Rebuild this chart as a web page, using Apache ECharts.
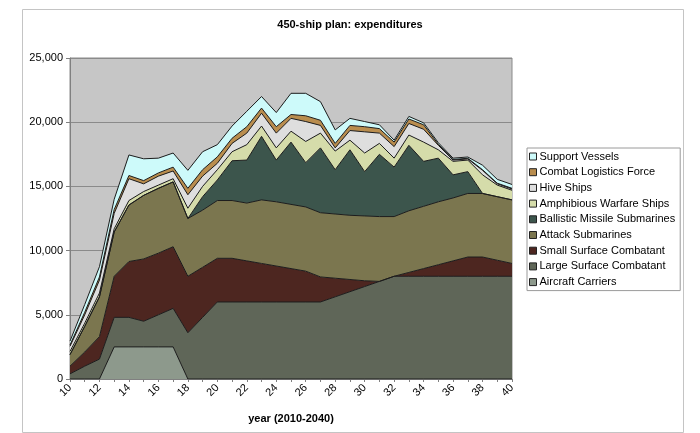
<!DOCTYPE html>
<html>
<head>
<meta charset="utf-8">
<script src="https://cdn.jsdelivr.net/npm/echarts@6/dist/echarts.min.js"></script>
<style>
  html, body { margin: 0; padding: 0; background: #fff; }
  #chart { width: 700px; height: 433px; }
</style>
</head>
<body>
<div id="chart"></div>
<script>
// years 2010-2040, shown as two digits
const years = ['10', '11', '12', '13', '14', '15', '16', '17', '18', '19', '20',
    '21', '22', '23', '24', '25', '26', '27', '28', '29', '30',
    '31', '32', '33', '34', '35', '36', '37', '38', '39', '40'];

// series values
const aircraftCarriers = [0, 0, 0, 2500, 2500, 2500, 2500, 2500, 0, 0, 0,
    0, 0, 0, 0, 0, 0, 0, 0, 0, 0,
    0, 0, 0, 0, 0, 0, 0, 0, 0, 0];
const largeSurface = [400, 1000, 1550, 2300, 2300, 2000, 2500, 3000, 3600, 4800, 6000,
    6000, 6000, 6000, 6000, 6000, 6000, 6000, 6400, 6800, 7200,
    7600, 8000, 8000, 8000, 8000, 8000, 8000, 8000, 8000, 8000];
const smallSurface = [600, 1100, 1750, 3200, 4350, 4850, 4800, 4800, 4400, 3900, 3400,
    3400, 3200, 3000, 2800, 2600, 2400, 1950, 1450, 950, 450,
    0, 0, 300, 600, 900, 1200, 1500, 1500, 1250, 1000];
const attackSubs = [900, 2000, 3100, 3450, 4400, 4950, 5050, 5050, 4500, 4450, 4500,
    4500, 4500, 4950, 5000, 5000, 5000, 5000, 5000, 5000, 5050,
    5050, 4650, 4800, 4850, 4900, 4900, 4950, 4950, 4950, 4950];
const ballisticSubs = [0, 0, 0, 0, 0, 0, 0, 0, 0, 1050, 1600,
    3100, 3350, 4950, 3250, 4850, 3450, 5050, 3450, 5100, 3450,
    4850, 3850, 5100, 3500, 3400, 1800, 1700, 0, 0, 0];
const amphibious = [250, 250, 300, 250, 350, 300, 250, 250, 800, 800, 800,
    700, 1200, 800, 950, 850, 1650, 1150, 1450, 750, 1450,
    850, 700, 800, 1500, 650, 1050, 900, 1450, 900, 750];
const hiveShips = [400, 650, 1000, 1200, 1700, 600, 700, 600, 1050, 800, 500,
    650, 900, 1000, 1150, 1000, 1550, 600, 250, 750, 1650,
    800, 900, 900, 1000, 350, 100, 90, 350, 100, 100];
const combatLogistics = [100, 200, 250, 300, 250, 250, 250, 300, 500, 500, 500,
    400, 500, 400, 500, 300, 450, 400, 350, 400, 400,
    350, 350, 350, 350, 80, 50, 50, 50, 50, 50];
const supportVessels = [300, 600, 800, 800, 1600, 1700, 1150, 1100, 1400, 1400, 950,
    950, 1200, 900, 1100, 1650, 1750, 1450, 1050, 550, 400,
    300, 150, 200, 150, 120, 100, 100, 350, 300, 300];

const yTicks = [0, 5000, 10000, 15000, 20000, 25000];

// bottom of the stack first
const layers = [
    ['Aircraft Carriers', aircraftCarriers, '#8d998c'],
    ['Large Surface Combatant', largeSurface, '#5f6658'],
    ['Small Surface Combatant', smallSurface, '#4d2620'],
    ['Attack Submarines', attackSubs, '#7b764f'],
    ['Ballistic Missile Submarines', ballisticSubs, '#3c554c'],
    ['Amphibious Warfare Ships', amphibious, '#d5dcaa'],
    ['Hive Ships', hiveShips, '#dedede'],
    ['Combat Logistics Force', combatLogistics, '#b98d4e'],
    ['Support Vessels', supportVessels, '#cdfafa']
];

const font = '"Liberation Sans", Arial, sans-serif';

const buildSeries = () => layers.map(([name, values, colour]) => ({
    name: name,
    type: 'line',
    stack: 'total',
    data: values,
    color: colour,
    showSymbol: false,
    symbol: 'none',
    lineStyle: { color: '#1c1c1c', width: 1 },
    itemStyle: { color: colour },
    areaStyle: { color: colour, opacity: 1 },
    emphasis: { disabled: true },
    animation: false
}));

const initChart = () => {
    const myChart = echarts.init(document.getElementById('chart'));
    myChart.setOption({
        backgroundColor: '#fff',
        animation: false,
        title: {
            text: '450-ship plan: expenditures',
            left: 'center',
            top: 19,
            padding: 0,
            textStyle: { fontFamily: font, fontSize: 11, fontWeight: 'bold', color: '#000' }
        },
        graphic: [{
            type: 'rect',
            left: 20, top: 7,
            shape: { width: 661, height: 423 },
            style: { fill: 'none', stroke: '#c4c4c4', lineWidth: 1 },
            silent: true
        }],
        legend: {
            orient: 'vertical',
            left: 527,
            top: 148,
            padding: [3, 5, 3, 2],
            itemGap: 4.7,
            itemWidth: 7,
            itemHeight: 7,
            icon: 'rect',
            backgroundColor: '#fff',
            borderColor: '#9a9a9a',
            borderWidth: 1,
            selectedMode: false,
            itemStyle: { borderColor: '#222', borderWidth: 1 },
            textStyle: { fontFamily: font, fontSize: 11, color: '#000', padding: [0, 0, 0, -2] },
            data: layers.map(l => l[0]).reverse()
        },
        grid: {
            left: 70, right: 188, top: 58, bottom: 54,
            show: true,
            backgroundColor: '#c6c6c6',
            borderColor: '#8a8a8a',
            borderWidth: 1
        },
        xAxis: {
            type: 'category',
            data: years,
            boundaryGap: false,
            name: 'year (2010-2040)',
            nameLocation: 'middle',
            nameGap: 34,
            nameTextStyle: { fontFamily: font, fontSize: 11, fontWeight: 'bold', color: '#000' },
            axisLine: { lineStyle: { color: '#808080' } },
            axisTick: { interval: 0, length: 3, lineStyle: { color: '#808080' } },
            axisLabel: { interval: 1, rotate: 45, margin: 7, fontFamily: font, fontSize: 11, color: '#000' },
            splitLine: { show: false }
        },
        yAxis: {
            type: 'value',
            min: yTicks[0],
            max: yTicks[yTicks.length - 1],
            interval: 5000,
            axisLine: { show: true, lineStyle: { color: '#808080' } },
            axisTick: { show: true, length: 4, lineStyle: { color: '#808080' } },
            axisLabel: {
                margin: 7,
                fontFamily: font, fontSize: 11, color: '#000',
                formatter: v => v.toLocaleString('en-US')
            },
            splitLine: { lineStyle: { color: '#8a8a8a', width: 1 } }
        },
        series: buildSeries()
    });
};

window.addEventListener('load', () => {
    initChart();
});
</script>
</body>
</html>
